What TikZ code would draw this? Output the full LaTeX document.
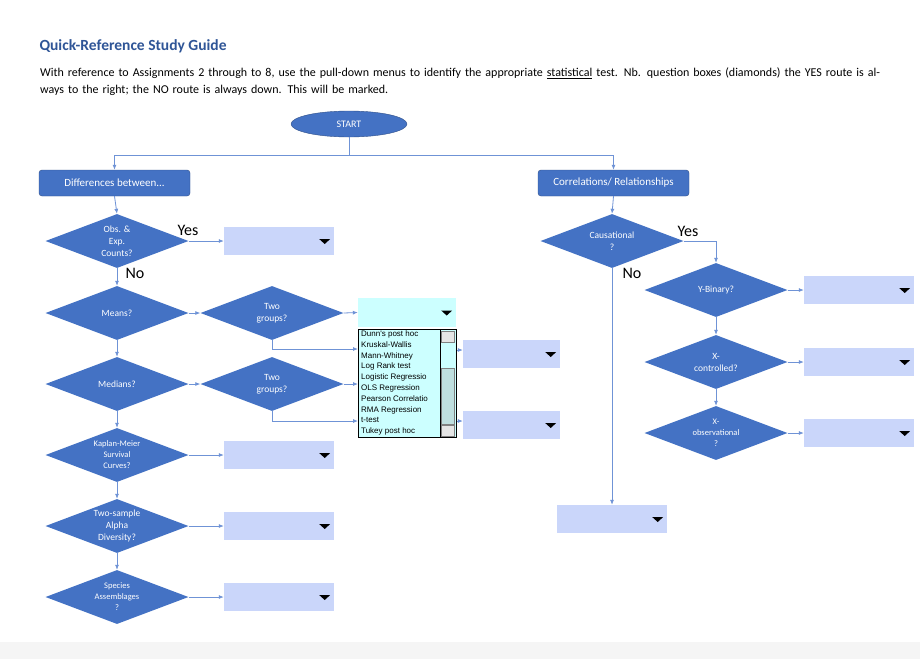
\documentclass[tikz,border=0pt]{standalone}
\usepackage{fontspec}
\setmainfont{Carlito}
\newfontfamily\listfont{Liberation Sans}
\usetikzlibrary{shapes.geometric,arrows.meta}
\definecolor{flowBlue}{HTML}{4472C4}
\definecolor{lineBlue}{HTML}{6F93D6}
\definecolor{pickBlue}{HTML}{CAD6FA}
\definecolor{pickCyan}{HTML}{CCFFFF}
\definecolor{titleBlue}{HTML}{2F5597}
\tikzset{
	question/.style={diamond, aspect=2.65, draw=none, fill=flowBlue, text=white, minimum width=143pt, minimum height=54pt, inner sep=0pt, align=center, font=\fontsize{9.5}{12}\selectfont},
	answer/.style={rectangle, fill=pickBlue, minimum width=110pt, minimum height=28pt},
	heading/.style={rectangle, fill=flowBlue, draw=flowBlue!70!black, rounded corners=3pt, text=white, minimum width=151pt, minimum height=26pt, font=\fontsize{11}{13}\selectfont},
	flow/.style={draw=lineBlue, line width=0.8pt, -{Latex[length=5pt,width=4pt]}},
	route/.style={font=\fontsize{16}{18}\selectfont}
}
\newcommand{\dropArrow}[1]{\fill (#1.east) ++(-15pt,2pt) -- ++(11pt,0) -- ++(-5.5pt,-5pt) -- cycle;}
\begin{document}
\begin{tikzpicture}[x=1pt, y=-1pt]
	\useasboundingbox (0,0) rectangle (920,659);
	\fill[white] (0,0) rectangle (920,659);
	\fill[gray!8] (0,642) rectangle (920,659);

	% header text
	\node[anchor=west, text=titleBlue, font=\fontsize{15.5}{18}\selectfont\bfseries](title) at (36,46){Quick-Reference Study Guide};
	\node[anchor=north west, align=left, text width=850pt, inner sep=0pt, font=\fontsize{12}{17}\selectfont](intro) at (40,68){With reference to Assignments 2 through to 8, use the pull-down menus to identify the appropriate \underline{statistical} test. Nb. question boxes (diamonds) the YES route is always to the right; the NO route is always down. This will be marked.};

	% start and headings
	\node[ellipse, fill=flowBlue, draw=flowBlue!70!black, text=white, minimum width=116pt, minimum height=26pt, font=\fontsize{10}{12}\selectfont](start) at (349,124){START};
	\node[heading](diffBox) at (114.5,183){Differences between...};
	\node[heading](corrBox) at (613.5,183){Correlations/ Relationships};
	\coordinate(split) at (349,155);
	\draw[draw=lineBlue, line width=0.8pt] (start.south) -- (split);
	\draw[flow] (split) -| (diffBox.north);
	\draw[flow] (split) -| (corrBox.north);

	% differences column
	\node[question](obsQ) at (117,241){Obs. \&\\Exp.\\Counts?};
	\node[question](meansQ) at (117,313){Means?};
	\node[question](mediansQ) at (117,384){Medians?};
	\node[question, font=\fontsize{8.5}{11}\selectfont](kaplanQ) at (117,455){Kaplan-Meier\\Survival\\Curves?};
	\node[question](alphaQ) at (117,526){Two-sample\\Alpha\\Diversity?};
	\node[question, font=\fontsize{8.5}{11}\selectfont](speciesQ) at (117,597){Species\\Assemblages\\?};
	\draw[flow] (diffBox.south) -- (obsQ.north);
	\draw[flow] (obsQ.south) -- (meansQ.north);
	\draw[flow] (meansQ.south) -- (mediansQ.north);
	\draw[flow] (mediansQ.south) -- (kaplanQ.north);
	\draw[flow] (kaplanQ.south) -- (alphaQ.north);
	\draw[flow] (alphaQ.south) -- (speciesQ.north);
	\node[route](obsYes) at (188,230){Yes};
	\node[route](obsNo) at (135,273){No};

	\node[answer](obsPick) at (279,241){};
	\node[answer](kaplanPick) at (279,455){};
	\node[answer](alphaPick) at (279,526){};
	\node[answer](speciesPick) at (279,597){};
	\draw[flow] (obsQ.east) -- (obsPick.west);
	\draw[flow] (kaplanQ.east) -- (kaplanPick.west);
	\draw[flow] (alphaQ.east) -- (alphaPick.west);
	\draw[flow] (speciesQ.east) -- (speciesPick.west);

	% two groups and the open list
	\node[question](meansTwo) at (272,313){Two\\groups?};
	\node[question](mediansTwo) at (272,384){Two\\groups?};
	\draw[flow] (meansQ.east) -- (meansTwo.west);
	\draw[flow] (mediansQ.east) -- (mediansTwo.west);

	\node[rectangle, fill=pickCyan, minimum width=98pt, minimum height=29pt](listPick) at (407,312.5){};
	\node[rectangle, draw=black, fill=pickCyan, minimum width=98pt, minimum height=108pt, inner sep=0pt](testList) at (407,383){};
	\node[anchor=north west, inner sep=0pt, align=left, font=\listfont\fontsize{8}{10.8}\selectfont](testItems) at (361,330.5){Dunn's post hoc\\Kruskal-Wallis\\Mann-Whitney\\Log Rank test\\Logistic Regressio\\OLS Regression\\Pearson Correlatio\\RMA Regression\\t-test\\Tukey post hoc};
	\fill[pickCyan] (440,330) rectangle (455,436);
	\draw[gray, fill=gray!20] (441,331) rectangle (454,342);
	\draw[gray, fill=gray!20] (441,425) rectangle (454,436);
	\draw[gray, fill=teal!25] (441,368) rectangle (454,424);
	\draw[black] (440,329) -- (440,437);
	\coordinate(meansDrop) at (358,349);
	\coordinate(mediansDrop) at (358,421);
	\draw[flow] (meansTwo.east) -- (listPick.west);
	\draw[flow] (meansTwo.south) |- (meansDrop);
	\draw[flow] (mediansTwo.east) -- (mediansDrop |- mediansTwo.east);
	\draw[flow] (mediansTwo.south) |- (mediansDrop);

	\node[answer, minimum width=97pt](upperPick) at (511.5,354){};
	\node[answer, minimum width=97pt](lowerPick) at (511.5,425){};
	\coordinate(upperIn) at (457,350);
	\coordinate(lowerIn) at (457,421);
	\draw[flow] (upperIn) -- (upperIn -| upperPick.west);
	\draw[flow] (lowerIn) -- (lowerIn -| lowerPick.west);

	% correlations column
	\node[question](causalQ) at (612,241){Causational\\?};
	\node[question](binaryQ) at (716,290){Y-Binary?};
	\node[question](controlQ) at (716,362){X-\\controlled?};
	\node[question, font=\fontsize{8.5}{11}\selectfont](observQ) at (716,433){X-\\observational\\?};
	\node[route](causalYes) at (688,231){Yes};
	\node[route](causalNo) at (632,273){No};
	\draw[flow] (corrBox.south) -- (causalQ.north);
	\draw[flow] (causalQ.east) -| (binaryQ.north);
	\draw[flow] (binaryQ.south) -- (controlQ.north);
	\draw[flow] (controlQ.south) -- (observQ.north);

	\node[answer](causalPick) at (612,519){};
	\draw[flow] (causalQ.south) -- (causalPick.north);
	\node[answer](binaryPick) at (859,290){};
	\node[answer](controlPick) at (859,362){};
	\node[answer](observPick) at (859,433){};
	\draw[flow] (binaryQ.east) -- (binaryPick.west);
	\draw[flow] (controlQ.east) -- (controlPick.west);
	\draw[flow] (observQ.east) -- (observPick.west);

	% pull-down arrows
	\foreach \pick in {obsPick,kaplanPick,alphaPick,speciesPick,listPick,upperPick,lowerPick,causalPick,binaryPick,controlPick,observPick}{
		\dropArrow{\pick}
	}
\end{tikzpicture}
\end{document}
